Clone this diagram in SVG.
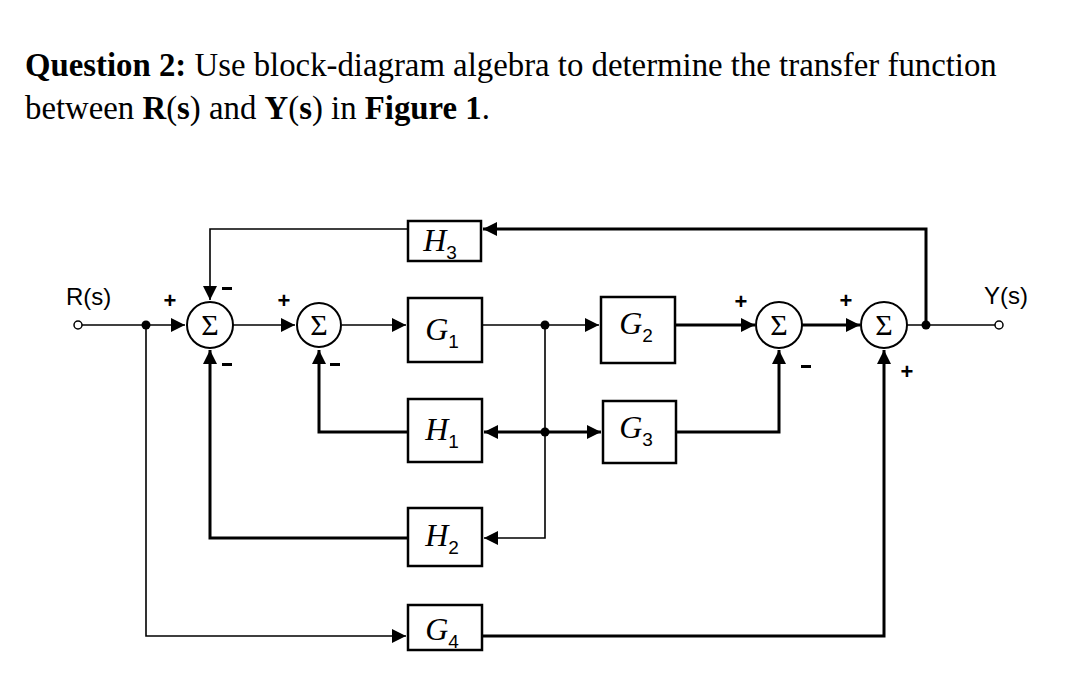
<svg xmlns="http://www.w3.org/2000/svg" width="1077" height="677" viewBox="0 0 1077 677">
<defs>
<marker id="b" viewBox="0 0 10 10" refX="10" refY="5" markerWidth="14" markerHeight="14" markerUnits="userSpaceOnUse" orient="auto"><path d="M0,0L10,5L0,10z" fill="#000"/></marker>
</defs>
<style>
.t{font-family:"Liberation Serif",serif;font-size:32.8px;fill:#000}
.b{font-weight:bold}
.box{fill:#fff;stroke:#000;stroke-width:2.5}
.sum{fill:#fff;stroke:#000;stroke-width:2}
.sg{font-family:"Liberation Serif",serif;font-size:30px;text-anchor:middle}
.lb{font-family:"Liberation Serif",serif;font-style:italic;font-size:32px;text-anchor:middle}
.sub{font-family:"Liberation Sans",sans-serif;font-size:19px;font-style:normal}
.s{font-family:"Liberation Sans",sans-serif;font-size:24px}
.pm{font-family:"Liberation Sans",sans-serif;font-size:22px;font-weight:bold;text-anchor:middle}
.mn{fill:#000}
.w{fill:none;stroke:#000;stroke-width:1.6}
.W{fill:none;stroke:#000;stroke-width:3}
</style>
<rect width="1077" height="677" fill="#fff"/>
<text class="t" x="25" y="76"><tspan class="b">Question 2:</tspan> Use block-diagram algebra to determine the transfer function</text>
<text class="t" x="25" y="119">between <tspan class="b">R</tspan>(<tspan class="b">s</tspan>) and <tspan class="b">Y</tspan>(<tspan class="b">s</tspan>) in <tspan class="b">Figure 1</tspan>.</text>

<g id="connectors">
<path class="w" d="M82,325H185" marker-end="url(#b)"/>
<path class="w" d="M233,325H295" marker-end="url(#b)"/>
<path class="w" d="M342,325H406" marker-end="url(#b)"/>
<path class="w" d="M482,325H599" marker-end="url(#b)"/>
<path class="W" d="M675,325H755" marker-end="url(#b)"/>
<path class="W" d="M802,325H860" marker-end="url(#b)"/>
<path class="w" d="M907,325H995"/>
<path class="W" d="M926,325V229H483" marker-end="url(#b)"/>
<path class="w" d="M408,229H210V300" marker-end="url(#b)"/>
<path class="w" d="M545,325V538H484" marker-end="url(#b)"/>
<path class="W" d="M545,432H484" marker-end="url(#b)"/>
<path class="W" d="M545,432H601" marker-end="url(#b)"/>
<path class="W" d="M408,432H319V350" marker-end="url(#b)"/>
<path class="W" d="M408,538H210V350" marker-end="url(#b)"/>
<path class="W" d="M676,432H779V350" marker-end="url(#b)"/>
<path class="w" d="M146,325V636H406" marker-end="url(#b)"/>
<path class="W" d="M482,636H884V350" marker-end="url(#b)"/>
<circle cx="146" cy="325" r="4.5"/>
<circle cx="545" cy="325" r="4.5"/>
<circle cx="545" cy="432" r="4.5"/>
<circle cx="926" cy="325" r="4.5"/>
<circle cx="78" cy="325" r="4" fill="#fff" stroke="#000" stroke-width="1.5"/>
<circle cx="999" cy="325" r="4" fill="#fff" stroke="#000" stroke-width="1.5"/>
</g>

<text class="s" x="66" y="305">R(s)</text>
<text class="s" x="984" y="304">Y(s)</text>

<g id="sum1"><circle class="sum" cx="210" cy="325" r="23"/><text class="sg" x="210" y="335">Σ</text>
<text class="pm" x="170" y="308">+</text><rect class="mn" x="222" y="287" width="10" height="3"/><rect class="mn" x="222" y="363" width="10" height="3"/></g>
<g id="sum2"><circle class="sum" cx="319" cy="325" r="22"/><text class="sg" x="319" y="335">Σ</text>
<text class="pm" x="284" y="308">+</text><rect class="mn" x="330" y="363" width="10" height="3"/></g>
<g id="sum3"><circle class="sum" cx="779" cy="325" r="23"/><text class="sg" x="779" y="335">Σ</text>
<text class="pm" x="741" y="309">+</text><rect class="mn" x="801" y="365" width="10" height="3"/></g>
<g id="sum4"><circle class="sum" cx="884" cy="325" r="23"/><text class="sg" x="884" y="335">Σ</text>
<text class="pm" x="846" y="308">+</text><text class="pm" x="907" y="379">+</text></g>

<g id="H3"><rect class="box" x="408" y="221" width="73" height="40"/><text class="lb" x="440" y="251">H<tspan class="sub" dy="8">3</tspan></text></g>
<g id="G1"><rect class="box" x="408" y="298" width="74" height="64"/><text class="lb" x="442" y="340">G<tspan class="sub" dy="8">1</tspan></text></g>
<g id="H1"><rect class="box" x="408" y="399" width="74" height="63"/><text class="lb" x="442" y="440">H<tspan class="sub" dy="8">1</tspan></text></g>
<g id="H2"><rect class="box" x="408" y="508" width="74" height="58"/><text class="lb" x="442" y="546">H<tspan class="sub" dy="8">2</tspan></text></g>
<g id="G4"><rect class="box" x="408" y="605" width="74" height="45"/><text class="lb" x="442" y="640">G<tspan class="sub" dy="8">4</tspan></text></g>
<g id="G2"><rect class="box" x="601" y="297" width="74" height="66"/><text class="lb" x="636" y="334">G<tspan class="sub" dy="8">2</tspan></text></g>
<g id="G3"><rect class="box" x="603" y="401" width="73" height="62"/><text class="lb" x="636" y="438">G<tspan class="sub" dy="8">3</tspan></text></g>
</svg>
